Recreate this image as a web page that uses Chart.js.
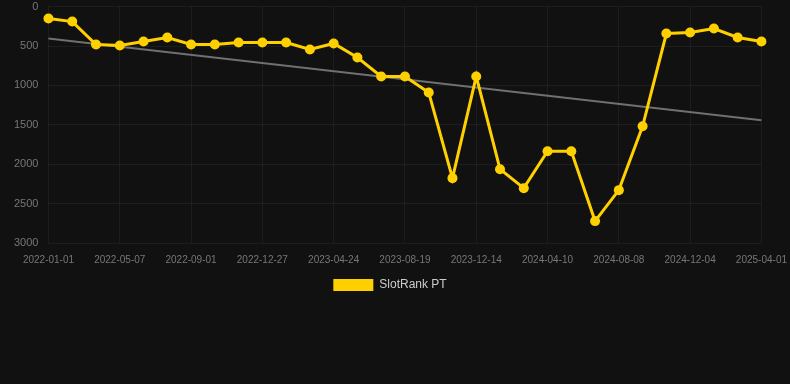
<!DOCTYPE html>
<html>
<head>
<meta charset="utf-8">
<script src="https://cdn.jsdelivr.net/npm/chart.js@4"></script>
<style>
  html, body { margin: 0; padding: 0; background: #111111; overflow: hidden; }
  #caja { position: relative; width: 798px; height: 311px; margin-top: -10px; }
</style>
</head>
<body>
<div id="caja"><canvas id="grafico"></canvas></div>
<script>
// fechas del eje x (solo se ve una de cada tres)
const fechas = [
  "2022-01-01", "2022-02-12", "2022-03-26", "2022-05-07", "2022-06-15", "2022-07-24",
  "2022-09-01", "2022-10-10", "2022-11-18", "2022-12-27", "2023-02-04", "2023-03-16",
  "2023-04-24", "2023-06-01", "2023-07-10", "2023-08-19", "2023-09-26", "2023-11-05",
  "2023-12-14", "2024-01-21", "2024-03-01", "2024-04-10", "2024-05-19", "2024-06-28",
  "2024-08-08", "2024-09-15", "2024-10-26", "2024-12-04", "2025-01-11", "2025-02-20",
  "2025-04-01"
];

// posición en el ranking
const posiciones = [
  152, 190, 481, 494, 443, 392, 481, 481, 456, 456,
  456, 544, 468, 646, 886, 886, 1089, 2177, 886, 2063,
  2304, 1835, 1835, 2722, 2329, 1519, 342, 329, 278, 392,
  443
];

// linea de tendencia: inicio y fin
const tendencia = [405, 1443];

const yTicks = [0, 500, 1000, 1500, 2000, 2500, 3000];

const colorGrilla = "rgba(255,255,255,0.05)";

// corro un poco la leyenda a la izquierda
const moverLeyenda = {
  id: "moverLeyenda",
  afterLayout(chart) {
    chart.legend.left -= 9;
    chart.legend.right -= 9;
  }
};

const config = {
  type: "line",
  data: {
    labels: fechas,
    datasets: [
      {
        label: "SlotRank PT",
        data: posiciones,
        borderColor: "#ffd000",
        backgroundColor: "#ffd000",
        borderWidth: 3,
        pointRadius: 5,
        pointBorderWidth: 0,
        pointHoverRadius: 6,
        tension: 0
      },
      {
        label: "Tendencia",
        data: [
          { x: fechas[0], y: tendencia[0] },
          { x: fechas[fechas.length - 1], y: tendencia[1] }
        ],
        borderColor: "#707070",
        borderWidth: 2,
        pointRadius: 0,
        fill: false
      }
    ]
  },
  options: {
    responsive: true,
    maintainAspectRatio: false,
    animation: false,
    layout: { padding: { left: 4, right: 4, top: 0, bottom: 0 } },
    plugins: {
      tooltip: { enabled: false },
      legend: {
        position: "bottom",
        labels: {
          color: "#cccccc",
          font: { size: 12 },
          boxWidth: 40,
          boxHeight: 12,
          padding: 2,
          generateLabels: chart =>
            Chart.defaults.plugins.legend.labels.generateLabels(chart)
              .filter(item => item.datasetIndex === 0)
              .map(item => ({ ...item, lineWidth: 0 }))
        }
      }
    },
    scales: {
      x: {
        grid: {
          color: ctx => (ctx.index % 3 === 0 ? colorGrilla : "rgba(0,0,0,0)"),
          drawTicks: false
        },
        border: { display: false },
        ticks: {
          color: "#777777",
          font: { size: 10 },
          padding: 11,
          maxRotation: 0,
          autoSkip: false,
          callback: function (val, i) {
            return i % 3 === 0 ? fechas[i] : "";
          }
        }
      },
      y: {
        reverse: true,
        min: 0,
        max: 3000,
        afterBuildTicks: axis => { axis.ticks = yTicks.map(v => ({ value: v })); },
        grid: { color: colorGrilla, drawTicks: false },
        border: { display: false },
        ticks: {
          color: "#777777",
          font: { size: 11 },
          padding: 10,
          callback: v => String(v)
        }
      }
    }
  },
  plugins: [moverLeyenda]
};

new Chart(document.getElementById("grafico"), config);
</script>
</body>
</html>
